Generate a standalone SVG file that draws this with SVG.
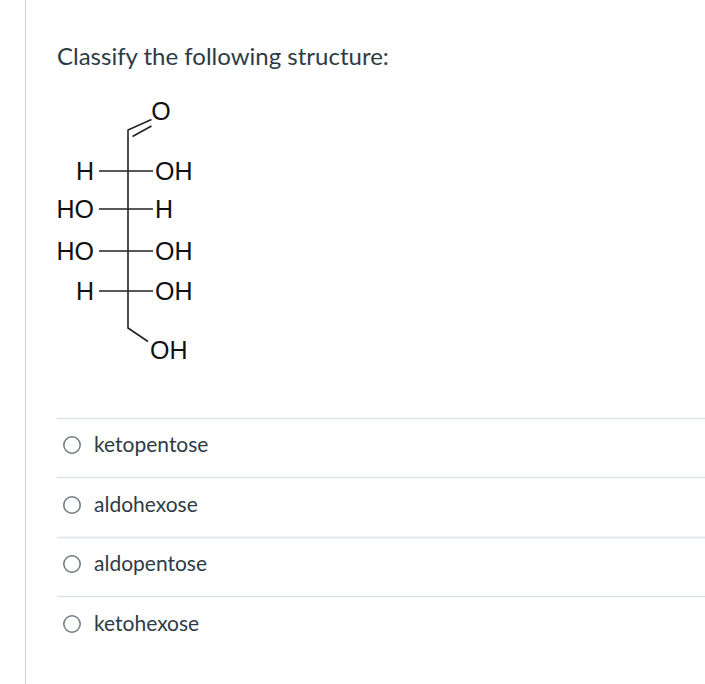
<svg xmlns="http://www.w3.org/2000/svg" width="705" height="684" viewBox="0 0 705 684">
<style>
.q{font-family:Lato,"Liberation Sans",sans-serif;fill:#2d3b45}
.chem{font-family:"Liberation Sans",Arial,sans-serif;font-size:25px;fill:#111}
.bond{stroke:#222;stroke-width:1.6;fill:none}
.sep{stroke:#e0e3e5;stroke-width:1.5}
.radio{fill:#fff;stroke:#6f7a82;stroke-width:1.5}
</style>
<rect width="705" height="684" fill="#fff"/>
<line x1="25.5" y1="0" x2="25.5" y2="684" stroke="#c7cdd1" stroke-width="1"/>
<text class="q" x="57" y="64.5" font-size="24">Classify the following structure:</text>
<g id="structure">
  <g id="bonds">
    <polyline class="bond" points="151.5,119.5 128,130 128,328 148,341.5"/>
    <line class="bond" x1="132.5" y1="136.5" x2="151.5" y2="126"/>
    <line class="bond" x1="99" y1="171" x2="153" y2="171"/>
    <line class="bond" x1="99" y1="209" x2="153" y2="209"/>
    <line class="bond" x1="99" y1="251" x2="153" y2="251"/>
    <line class="bond" x1="99" y1="291" x2="153" y2="291"/>
  </g>
  <text class="chem" x="161" y="120" text-anchor="middle">O</text>
  <text class="chem" x="94" y="180" text-anchor="end">H</text>
  <text class="chem" x="155" y="180">OH</text>
  <text class="chem" x="94" y="218" text-anchor="end">HO</text>
  <text class="chem" x="155" y="218">H</text>
  <text class="chem" x="94" y="260" text-anchor="end">HO</text>
  <text class="chem" x="155" y="260">OH</text>
  <text class="chem" x="94" y="300" text-anchor="end">H</text>
  <text class="chem" x="155" y="300">OH</text>
  <text class="chem" x="150" y="359">OH</text>
</g>
<line class="sep" x1="57" y1="418.5" x2="705" y2="418.5"/>
<line class="sep" x1="57" y1="477.5" x2="705" y2="477.5"/>
<line class="sep" x1="57" y1="537.5" x2="705" y2="537.5"/>
<line class="sep" x1="57" y1="596.5" x2="705" y2="596.5"/>
<g id="opt1"><circle class="radio" cx="72" cy="445" r="8.2"/><text class="q" x="94" y="451.5" font-size="21">ketopentose</text></g>
<g id="opt2"><circle class="radio" cx="72" cy="505" r="8.2"/><text class="q" x="94" y="511.5" font-size="21">aldohexose</text></g>
<g id="opt3"><circle class="radio" cx="72" cy="564" r="8.2"/><text class="q" x="94" y="570.5" font-size="21">aldopentose</text></g>
<g id="opt4"><circle class="radio" cx="72" cy="624" r="8.2"/><text class="q" x="94" y="630.5" font-size="21">ketohexose</text></g>
</svg>
